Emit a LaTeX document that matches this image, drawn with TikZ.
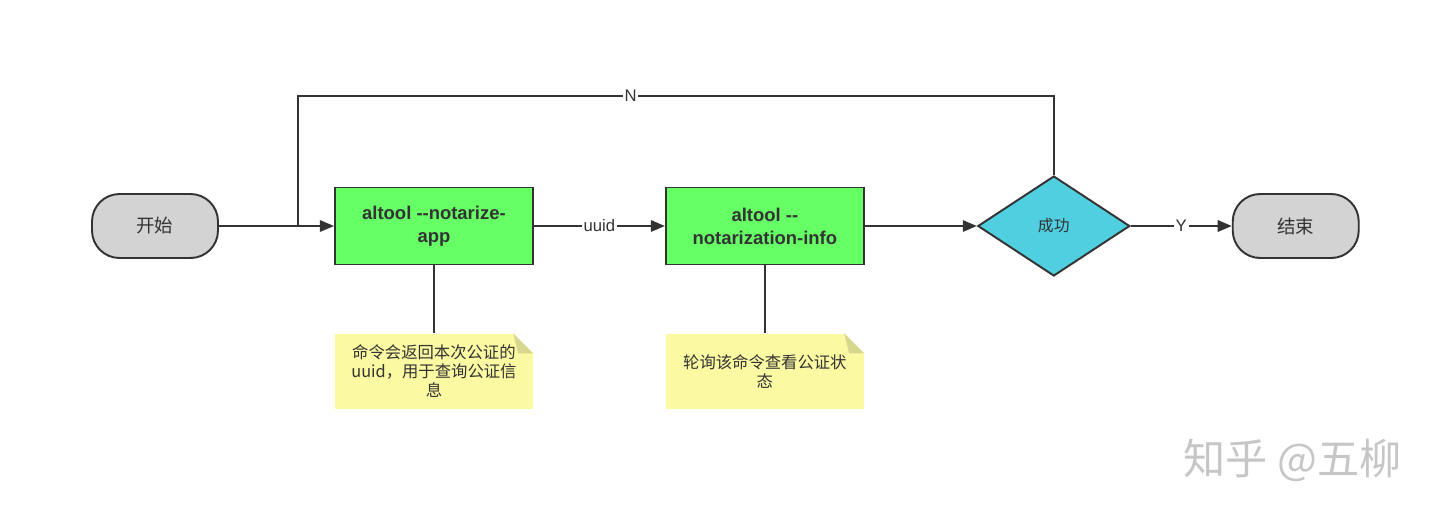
\documentclass[tikz,border=0pt]{standalone}
\usepackage{fontspec}
\setmainfont{Liberation Sans}
\newfontfamily\cjk{Noto Sans CJK SC}
\usetikzlibrary{arrows.meta, positioning, shapes.geometric}

\definecolor{boxgreen}{HTML}{66FF66}
\definecolor{deccyan}{HTML}{4FCFDF}
\definecolor{termgray}{HTML}{D3D3D3}
\definecolor{linegray}{HTML}{333333}
\definecolor{notefill}{HTML}{FBFAA3}
\definecolor{notefold}{HTML}{D8D78E}

\begin{document}
\begin{tikzpicture}[
    every node/.style={font=\fontsize{9.5pt}{11pt}\selectfont, text=linegray},
    term/.style={draw=linegray, line width=1.1pt, fill=termgray, rounded corners=0.55cm,
        minimum width=2.52cm, minimum height=1.28cm, font=\cjk\fontsize{10.5pt}{12pt}\selectfont},
    cmd/.style={draw=linegray, line width=1.1pt, fill=boxgreen, minimum width=3.96cm,
        minimum height=1.54cm, align=center, font=\bfseries\fontsize{10.5pt}{13pt}\selectfont},
    check/.style={diamond, draw=linegray, line width=1.1pt, fill=deccyan, inner sep=0pt,
        minimum width=3.04cm, minimum height=2cm, font=\cjk\fontsize{9pt}{11pt}\selectfont},
    note/.style={fill=notefill, minimum width=3.96cm, minimum height=1.5cm, align=center,
        font=\cjk\fontsize{9.3pt}{10.8pt}\selectfont},
    link/.style={draw=linegray, line width=1.1pt},
    arrow/.style={link, -{Triangle[length=8pt, width=6.5pt]}},
    lbl/.style={fill=white, inner sep=1pt}
]

\useasboundingbox (-3.10,4.52) rectangle (25.70,-5.86);

% Start
\node[term] (start) at (0,0) {开始};

% Submit for notarization
\node[cmd, right=2.30cm of start] (submit) {altool -{}-notarize-\\app};

% Query status
\node[cmd, right=2.62cm of submit] (query) {altool -{}-\\notarization-info};

% Success?
\node[check, right=2.24cm of query] (ok) {成功};

% End
\node[term, right=2.02cm of ok] (stop) {结束};

% Notes
\node[note, below=1.36cm of submit] (note1) {命令会返回本次公证的\\uuid，用于查询公证信\\息};
\node[note, below=1.36cm of query] (note2) {轮询该命令查看公证状\\态};
\foreach \n in {note1, note2} {
    \fill[white] ([xshift=-0.4cm]\n.north east) -- (\n.north east) -- ([yshift=-0.4cm]\n.north east) -- cycle;
    \fill[notefold] ([xshift=-0.4cm]\n.north east) -- ([yshift=-0.4cm]\n.north east)
        -- ([xshift=-0.3cm, yshift=-0.4cm]\n.north east) -- cycle;
}

% Junction of the retry loop
\coordinate[right=1.58cm of start] (join);

\draw[arrow] (start) -- (submit);
\draw[arrow] (submit) -- node[lbl] {uuid} (query);
\draw[arrow] (query) -- (ok);
\draw[arrow] (ok) -- node[lbl] {Y} (stop);
\draw[link] (ok.north) -- ++(0,1.58) -| node[lbl, pos=0.28] {N} (join);
\draw[link] (submit) -- (note1);
\draw[link] (query) -- (note2);

% Watermark
\node[text=gray!45, font=\cjk\fontsize{24pt}{26pt}\selectfont] (mark) at (22.75,-4.68) {知乎 @五柳};

\end{tikzpicture}
\end{document}
